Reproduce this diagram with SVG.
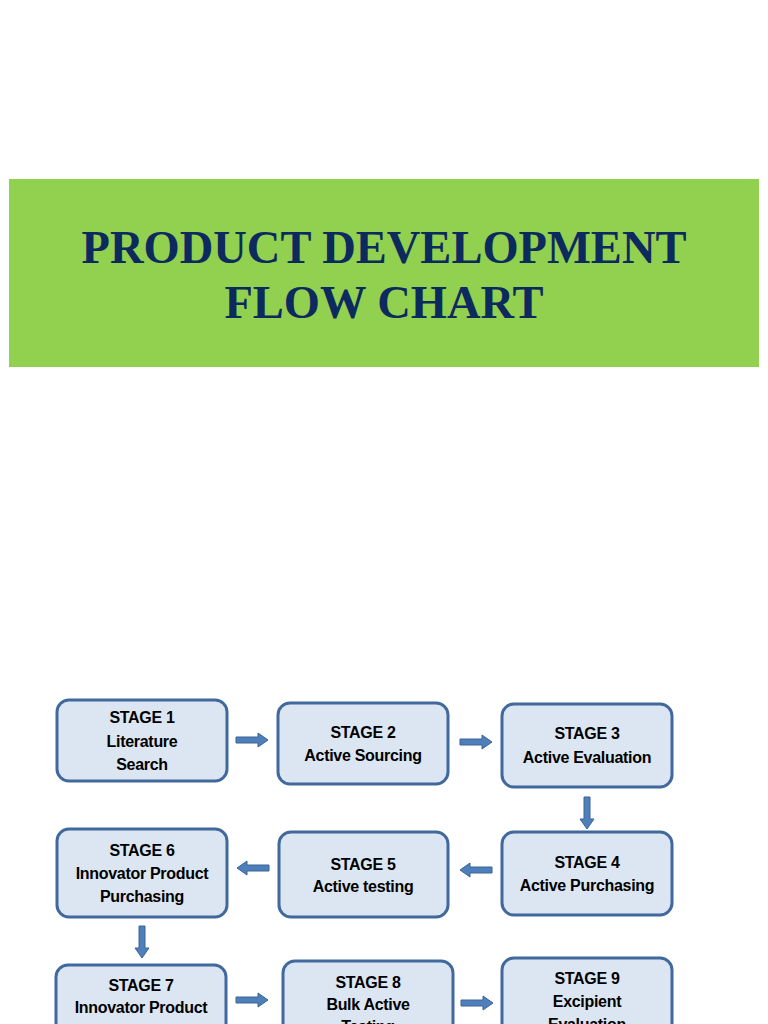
<svg xmlns="http://www.w3.org/2000/svg" width="768" height="1024" viewBox="0 0 768 1024">
<style>
.box{fill:#DCE6F2;stroke:#41699D;stroke-width:3}
.t{font-family:"Liberation Sans",Arial,sans-serif;font-weight:bold;font-size:16px;fill:#000;text-anchor:middle;dominant-baseline:central;letter-spacing:-0.3px}
.title{font-family:"Liberation Serif","Times New Roman",serif;font-weight:bold;font-size:46.5px;fill:#0D2A5E;text-anchor:middle}
.arr{fill:#4F7FBA;stroke:#3A6596;stroke-width:1}
</style>
<defs>
<path id="ar" d="M-16,-3 H6 V-7 L16,0 L6,7 V3 H-16 Z"/>
</defs>
<rect width="768" height="1024" fill="#fff"/>
<g id="header">
<rect x="9" y="179" width="750" height="188" fill="#92D050"/>
<text class="title" x="384" y="263">PRODUCT DEVELOPMENT</text>
<text class="title" x="384" y="318">FLOW CHART</text>
</g>
<g id="connectors">
<use href="#ar" class="arr" transform="translate(252,740)"/>
<use href="#ar" class="arr" transform="translate(476,742)"/>
<use href="#ar" class="arr" transform="translate(587,813) rotate(90)"/>
<use href="#ar" class="arr" transform="translate(476,870) rotate(180)"/>
<use href="#ar" class="arr" transform="translate(253,868) rotate(180)"/>
<use href="#ar" class="arr" transform="translate(142,942) rotate(90)"/>
<use href="#ar" class="arr" transform="translate(252,1000)"/>
<use href="#ar" class="arr" transform="translate(477,1003)"/>
</g>
<g id="stage1"><rect class="box" x="57" y="700" width="170" height="81" rx="12"/>
<text class="t" x="142" y="717">STAGE 1</text><text class="t" x="142" y="741">Literature</text><text class="t" x="142" y="764">Search</text></g>
<g id="stage2"><rect class="box" x="278" y="703" width="170" height="81" rx="12"/>
<text class="t" x="363" y="732">STAGE 2</text><text class="t" x="363" y="755">Active Sourcing</text></g>
<g id="stage3"><rect class="box" x="502" y="704" width="170" height="83" rx="12"/>
<text class="t" x="587" y="733">STAGE 3</text><text class="t" x="587" y="757">Active Evaluation</text></g>
<g id="stage4"><rect class="box" x="502" y="832" width="170" height="83" rx="12"/>
<text class="t" x="587" y="862">STAGE 4</text><text class="t" x="587" y="885">Active Purchasing</text></g>
<g id="stage5"><rect class="box" x="279" y="832" width="169" height="85" rx="12"/>
<text class="t" x="363" y="864">STAGE 5</text><text class="t" x="363" y="886">Active testing</text></g>
<g id="stage6"><rect class="box" x="57" y="829" width="170" height="88" rx="12"/>
<text class="t" x="142" y="850">STAGE 6</text><text class="t" x="142" y="873">Innovator Product</text><text class="t" x="142" y="896">Purchasing</text></g>
<g id="stage7"><rect class="box" x="56" y="965" width="170" height="80" rx="12"/>
<text class="t" x="141" y="985">STAGE 7</text><text class="t" x="141" y="1007">Innovator Product</text></g>
<g id="stage8"><rect class="box" x="283" y="961" width="170" height="84" rx="12"/>
<text class="t" x="368" y="982">STAGE 8</text><text class="t" x="368" y="1004">Bulk Active</text><text class="t" x="368" y="1026">Testing</text></g>
<g id="stage9"><rect class="box" x="502" y="958" width="170" height="87" rx="12"/>
<text class="t" x="587" y="978">STAGE 9</text><text class="t" x="587" y="1001">Excipient</text><text class="t" x="587" y="1024">Evaluation</text></g>
</svg>
